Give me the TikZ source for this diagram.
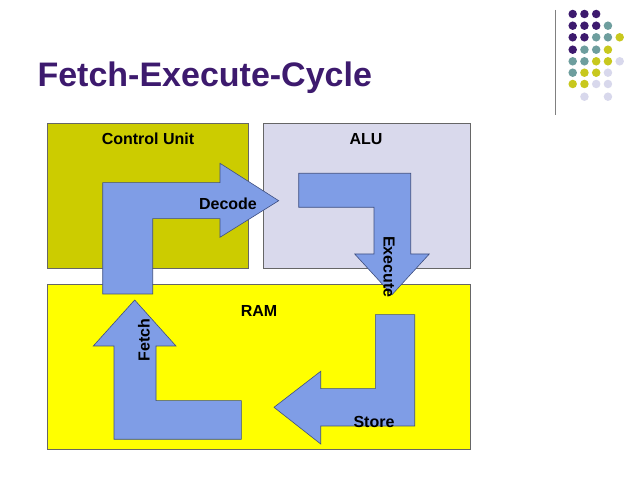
\documentclass[tikz,border=0pt]{standalone}
\usepackage{fontspec}
\setmainfont{Liberation Sans}
\begin{document}
\begin{tikzpicture}[x=1pt,y=-1pt,
 box/.style={draw=gray!80!black,line width=0.6pt},
 arr/.style={fill=arrowblue,draw=arrowedge,line width=0.6pt},
 lbl/.style={font=\bfseries\fontsize{16}{18}\selectfont,text=black},
 dot/.style={circle,inner sep=0pt,minimum size=8.5pt}]
\definecolor{cu}{HTML}{CCCC00}
\definecolor{alu}{HTML}{D9D9EC}
\definecolor{ram}{HTML}{FFFF00}
\definecolor{arrowblue}{HTML}{7F9DE6}
\definecolor{arrowedge}{HTML}{3F4F80}
\definecolor{dP}{HTML}{3D1A6E}
\definecolor{dT}{HTML}{6E9E9E}
\definecolor{dY}{HTML}{C8C81E}
\definecolor{dL}{HTML}{D8D8EC}
\useasboundingbox[fill=white] (0,0) rectangle (638,478);
\node[anchor=west,font=\bfseries\fontsize{34}{38}\selectfont,text=dP] (title) at (34,78) {Fetch-Execute-Cycle};
\draw[gray,line width=0.8pt] (555.3,10) coordinate (v1) -- (555.3,115) coordinate (v2);
% dots
\foreach \c [count=\i] in {P,P,P}{\node[dot,fill=d\c] (r1c\i) at ({572.7+11.75*(\i-1)},14) {};}
\foreach \c [count=\i] in {P,P,P,T}{\node[dot,fill=d\c] (r2c\i) at ({572.7+11.75*(\i-1)},25.7) {};}
\foreach \c [count=\i] in {P,P,T,T,Y}{\node[dot,fill=d\c] (r3c\i) at ({572.7+11.75*(\i-1)},37.3) {};}
\foreach \c [count=\i] in {P,T,T,Y}{\node[dot,fill=d\c] (r4c\i) at ({572.7+11.75*(\i-1)},49.7) {};}
\foreach \c [count=\i] in {T,T,Y,Y,L}{\node[dot,fill=d\c] (r5c\i) at ({572.7+11.75*(\i-1)},61.3) {};}
\foreach \c [count=\i] in {T,Y,Y,L}{\node[dot,fill=d\c] (r6c\i) at ({572.7+11.75*(\i-1)},72.7) {};}
\foreach \c [count=\i] in {Y,Y,L,L}{\node[dot,fill=d\c] (r7c\i) at ({572.7+11.75*(\i-1)},84) {};}
\node[dot,fill=dL] (r8c2) at (584.45,96.7) {};
\node[dot,fill=dL] (r8c4) at (607.95,96.7) {};
% boxes
\draw[box,fill=cu] (47.3,123.3) rectangle (248.7,268.7);
\draw[box,fill=alu] (263.3,123.3) rectangle (470,268.7);
\draw[box,fill=ram] (47.3,284) rectangle (470,449.3);
\node[lbl] (cul) at (148,139) {Control Unit};
\node[lbl] (alul) at (366,139) {ALU};
\node[lbl] (raml) at (259,311) {RAM};
% arrows
\draw[arr] (102.7,294) -- (102.7,182.7) -- (220,182.7) -- (220,163.3) -- (278.7,200.7) -- (220,237.3) -- (220,218.7) -- (152.7,218.7) -- (152.7,294) -- cycle;
\draw[arr] (298.7,173.3) -- (410.7,173.3) -- (410.7,254) -- (429.3,254) -- (392,294.7) -- (354.7,254) -- (374,254) -- (374,207.3) -- (298.7,207.3) -- cycle;
\draw[arr] (375.3,314.7) -- (414.7,314.7) -- (414.7,426) -- (320.7,426) -- (320.7,444) -- (274,407.3) -- (320.7,371.3) -- (320.7,388.7) -- (375.3,388.7) -- cycle;
\draw[arr] (114,439.3) -- (241.3,439.3) -- (241.3,400.7) -- (156,400.7) -- (156,346) -- (176,346) -- (134.7,300) -- (93.3,346) -- (114,346) -- cycle;
\node[lbl] (dec) at (228,204) {Decode};
\node[lbl,rotate=-90] (exe) at (389,267) {Execute};
\node[lbl] (sto) at (374,422) {Store};
\node[lbl,rotate=90] (fet) at (144,340) {Fetch};
\end{tikzpicture}
\end{document}
